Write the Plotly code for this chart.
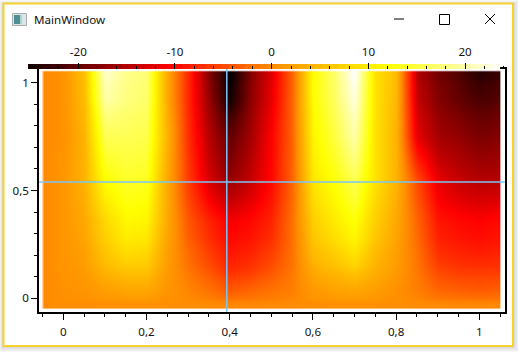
import plotly.graph_objects as go

W, H = 518, 352

# ---- data ----
heat_x_edges = [-0.05, -0.025, 0.025, 0.075, 0.125, 0.175, 0.225, 0.275, 0.325, 0.375, 0.425, 0.475,
                0.525, 0.575, 0.625, 0.675, 0.725, 0.775, 0.825, 0.875, 0.925, 0.975, 1.025, 1.05]
heat_y_edges = [-0.05, 0.0, 0.085, 0.16, 0.275, 0.45, 0.65, 0.85, 1.0, 1.055]
row_m005 = [0, 0.3, 0.3, 0.4, 0.5, 0.5, 0.4, 0.2, 0, -0.3, -0.3, -0.2, 0, 0.3, 0.4, 0.5, 0.4, 0.2, 0, -0.2, -0.3, -0.3, -0.2]
row_p005 = [0, 0.5, 1, 2, 3, 3, 1, -0.5, -2, -4, -3, -2, -1, 1.5, 2.5, 3, 2, 0.5, -1, -3, -3.5, -4, -3.5]
row_p012 = [0, 0.7, 1.5, 4, 5.5, 5.5, 1.5, -1.5, -4, -7, -6, -4, -1.5, 3, 4.5, 6, 3.5, 1.5, -1.5, -5, -6, -6, -6]
row_p020 = [0, 1, 2, 6, 8.5, 8, 2, -2.5, -6, -9, -8, -6, -2, 5, 7, 9.5, 5, 2, -2, -7, -8, -8.5, -8]
row_p035 = [0, 1, 3, 8, 11.5, 11, 3, -4, -8, -11, -10, -8, -2, 7, 10, 12.5, 7, 3, -3, -9, -10, -10.5, -10]
row_p055 = [0, 1, 4, 12, 14, 13.5, 3, -6, -13, -17, -14, -10, -3, 9.5, 12.5, 16, 9, 4, -5, -12, -14, -15, -15]
row_p075 = [0, 0.5, 4, 16, 16, 15.5, 4, -7, -15, -20, -16, -10.5, -3, 11, 15, 20, 9, 4, -12, -16, -17, -18.5, -18]
row_p095 = [0, 0.5, 5, 20, 18, 17, 3, -7.5, -17, -25, -17.5, -12, -3, 12, 16.5, 22.5, 9, 4.5, -14, -18, -20, -21.5, -21]
row_p105 = [0, 0.5, 5.5, 21.5, 18.5, 17.5, 3, -7.5, -18, -26, -18, -12.5, -3, 12, 17, 24, 9, 5, -15, -19, -21, -23.5, -22.5]
heat_z = [row_m005, row_p005, row_p012, row_p020, row_p035, row_p055, row_p075, row_p095, row_p105]

bar_levels = [-24.8, -24.0, -23.2, -22.4, -21.6, -20.8, -20.0, -19.2, -18.4, -17.6, -16.8, -16.0, -15.2,
              -14.4, -13.6, -12.8, -12.0, -11.2, -10.4, -9.6, -8.8, -8.0, -7.2, -6.4, -5.6, -4.8, -4.0,
              -3.2, -2.4, -1.6, -0.8, 0.0, 0.8, 1.6, 2.4, 3.2, 4.0, 4.8, 5.6, 6.4, 7.2, 8.0, 8.8, 9.6,
              10.4, 11.2, 12.0, 12.8, 13.6, 14.4, 15.2, 16.0, 16.8, 17.6, 18.4, 19.2, 20.0, 20.8, 21.6,
              22.4, 23.2]
bar_row = [0]

x_tick_vals = [0, 0.2, 0.4, 0.6, 0.8, 1]
x_tick_text = ["0", "0,2", "0,4", "0,6", "0,8", "1"]
y_tick_vals = [0, 0.5, 1]
y_tick_text = ["0", "0,5", "1"]
bar_tick_vals = [-20, -10, 0, 10, 20]
bar_tick_text = ["-20", "-10", "0", "10", "20"]
cursor_x = 0.393
cursor_y = 0.539
window_title = "MainWindow"

z_low, z_high = -26, 24
scale_points = [(-26, "#000000"), (-10.5, "#ff0000"), (0, "#ff8c00"), (12, "#ffff00"), (24, "#ffffff")]
colorscale = [[(v - z_low) / (z_high - z_low), c] for v, c in scale_points]

FONT = "Noto Sans"
px = lambda x: x / W
py = lambda y: 1 - y / H


def rect(x0, y0, x1, y1, fill=None, line=None, lw=1, layer="below"):
    return dict(type="rect", xref="paper", yref="paper", x0=px(x0), x1=px(x1), y0=py(y0), y1=py(y1),
                fillcolor=fill or "rgba(0,0,0,0)", line=dict(color=line or "rgba(0,0,0,0)", width=lw if line else 0),
                layer=layer)


def seg(x0, y0, x1, y1, color="#000000", lw=1):
    return dict(type="line", xref="paper", yref="paper", x0=px(x0), x1=px(x1), y0=py(y0), y1=py(y1),
                line=dict(color=color, width=lw))


fig = go.Figure()
fig.add_trace(go.Heatmap(x=heat_x_edges, y=heat_y_edges, z=heat_z, zsmooth="best", colorscale=colorscale,
                         zmin=z_low, zmax=z_high, showscale=False, hoverinfo="skip", xaxis="x", yaxis="y"))
fig.add_trace(go.Heatmap(x=bar_levels, y=bar_row, z=[bar_levels], colorscale=colorscale, zmin=z_low, zmax=z_high,
                         showscale=False, hoverinfo="skip", xaxis="x2", yaxis="y2"))

shapes = [
    rect(0, 0, 518, 352, fill="#f6f6f6"),
    rect(0, 1, 518, 351, fill="#f0f0f0"),
    rect(1, 2, 517, 350, fill="#e6e6e6"),
    rect(2, 3, 515, 348, fill="#dadada"),
    rect(3.5, 3.5, 513, 346, fill="#ffffff", line="#f7d12e", lw=2),
    # window icon
    rect(12.5, 13.5, 26.5, 25.5, fill="#dfe5e6", line="#a9adb0", lw=1),
    rect(14, 15, 20, 24, fill="#4f8f93"),
    rect(20, 15, 22, 24, fill="#a8d8c8"),
    # window buttons
    seg(394, 19, 404, 19),
    rect(439.5, 14.5, 449.5, 24.5, line="#000000", lw=1, layer="above"),
    seg(485, 14, 495, 24),
    seg(495, 14, 485, 24),
    # pale rim of the image
    rect(43, 71, 501, 309, line="rgba(255,255,255,0.55)", lw=1, layer="above"),
    # cursor cross
    dict(type="line", xref="x", yref="paper", x0=cursor_x, x1=cursor_x, y0=py(312), y1=py(69),
         line=dict(color="#7cc4f5", width=1.5)),
    dict(type="line", xref="paper", yref="y", x0=px(39), x1=px(505), y0=cursor_y, y1=cursor_y,
         line=dict(color="#7cc4f5", width=1.5)),
]

tickfont = dict(family=FONT, size=11.6, color="#111111")
fig.update_layout(
    width=W, height=H, autosize=False, margin=dict(l=0, r=0, t=0, b=0),
    paper_bgcolor="#ffffff", plot_bgcolor="rgba(0,0,0,0)", showlegend=False,
    font=dict(family=FONT, size=12, color="#111111"), shapes=shapes,
    annotations=[dict(text=window_title, xref="paper", yref="paper", x=px(31.5), y=py(19.5), xanchor="left",
                      yanchor="middle", showarrow=False, font=dict(family=FONT, size=11.6, color="#111111"))],
    xaxis=dict(domain=[px(39), px(505)], range=[-0.0584, 1.0618], anchor="y", side="bottom", mirror=True,
               showline=True, linecolor="#000000", linewidth=1.5, showgrid=False, zeroline=False,
               ticks="outside", ticklen=6, tickwidth=1, tickcolor="#000000", ticklabelstandoff=2,
               tickvals=x_tick_vals, ticktext=x_tick_text, tickfont=tickfont,
               minor=dict(dtick=0.05, tick0=0, ticks="outside", ticklen=3, tickwidth=1, tickcolor="#000000", showgrid=False)),
    yaxis=dict(domain=[py(312), py(69)], range=[-0.0635, 1.0635], anchor="x", side="left", mirror=True,
               showline=True, linecolor="#000000", linewidth=1.5, showgrid=False, zeroline=False,
               ticks="outside", ticklen=6, tickwidth=1, tickcolor="#000000",
               tickvals=y_tick_vals, ticktext=y_tick_text, tickfont=tickfont,
               minor=dict(dtick=0.1, tick0=0, ticks="outside", ticklen=3, tickwidth=1, tickcolor="#000000", showgrid=False)),
    xaxis2=dict(domain=[px(28), px(505)], range=[-25.2, 24.13], anchor="free", position=py(69), side="top",
                showline=False, showgrid=False, zeroline=False,
                ticks="outside", ticklen=6, tickwidth=1, tickcolor="#000000", ticklabelstandoff=2,
                tickvals=bar_tick_vals, ticktext=bar_tick_text, tickfont=tickfont,
                minor=dict(dtick=2, tick0=0, ticks="outside", ticklen=3, tickwidth=1, tickcolor="#000000", showgrid=False)),
    yaxis2=dict(domain=[py(69), py(64)], range=[-0.5, 0.5], anchor="x2", visible=False),
)

fig.write_html("out.html", config=dict(displayModeBar=False),
               post_script="document.body.style.margin='0';document.body.style.overflow='hidden';")
